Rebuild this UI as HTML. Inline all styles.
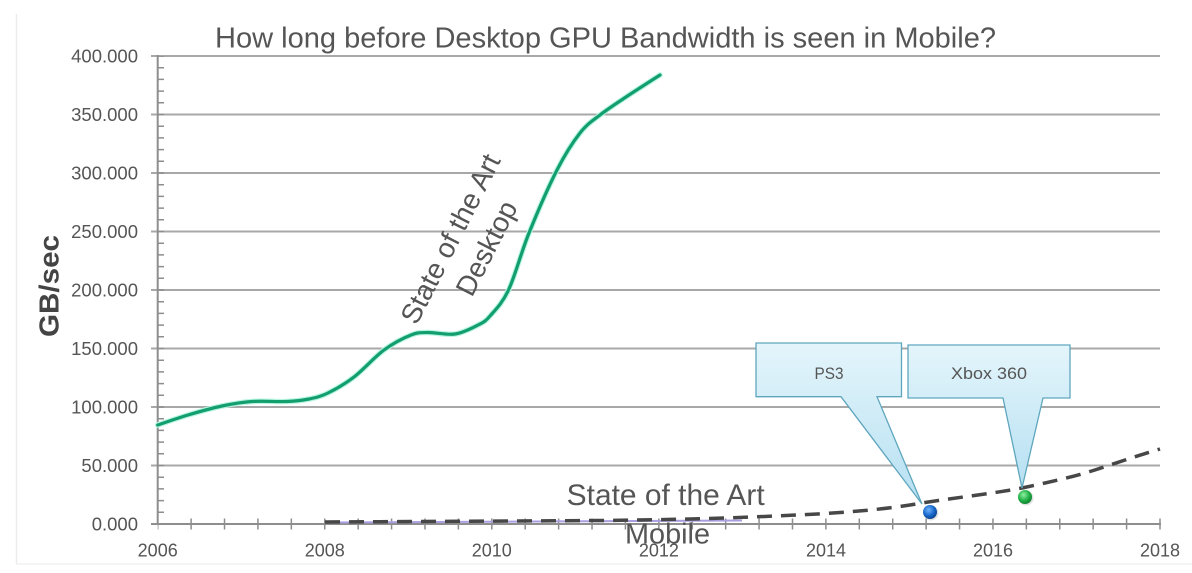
<!DOCTYPE html>
<html>
<head>
<meta charset="utf-8">
<style>
html,body{margin:0;padding:0;background:#fff;}
svg{display:block;}
text{font-family:"Liberation Sans",sans-serif;}
</style>
</head>
<body>
<svg width="1192" height="573" viewBox="0 0 1192 573" xmlns="http://www.w3.org/2000/svg">
<defs>
  <linearGradient id="cg" x1="0" y1="0" x2="0" y2="1">
    <stop offset="0" stop-color="#e4f5fb"/>
    <stop offset="1" stop-color="#b6e0f2"/>
  </linearGradient>
  <radialGradient id="bd" cx="0.4" cy="0.35" r="0.7">
    <stop offset="0" stop-color="#6fb3ff"/>
    <stop offset="0.6" stop-color="#1565c8"/>
    <stop offset="1" stop-color="#0b3f85"/>
  </radialGradient>
  <radialGradient id="gd" cx="0.4" cy="0.35" r="0.7">
    <stop offset="0" stop-color="#8ff0a0"/>
    <stop offset="0.6" stop-color="#1fae45"/>
    <stop offset="1" stop-color="#0d7a2a"/>
  </radialGradient>
</defs>

<!-- faint slide border -->
<line x1="16.5" y1="14" x2="16.5" y2="564" stroke="#ececec" stroke-width="1.5"/>
<line x1="16" y1="564" x2="1192" y2="564" stroke="#f2f2f2" stroke-width="1.5"/>

<!-- title -->
<text x="215" y="47.3" font-size="29" fill="#555" textLength="781" lengthAdjust="spacingAndGlyphs">How long before Desktop GPU Bandwidth is seen in Mobile?</text>

<!-- gridlines -->
<g stroke="#a8a8a8" stroke-width="2">
  <line x1="151" y1="56" x2="1160" y2="56"/>
  <line x1="151" y1="114.5" x2="1160" y2="114.5"/>
  <line x1="151" y1="173" x2="1160" y2="173"/>
  <line x1="151" y1="231.5" x2="1160" y2="231.5"/>
  <line x1="151" y1="290" x2="1160" y2="290"/>
  <line x1="151" y1="348.5" x2="1160" y2="348.5"/>
  <line x1="151" y1="407" x2="1160" y2="407"/>
  <line x1="151" y1="465.5" x2="1160" y2="465.5"/>
</g>

<!-- axes -->
<line x1="157.7" y1="55" x2="157.7" y2="525" stroke="#8e8e8e" stroke-width="2"/>
<line x1="151" y1="524" x2="1161" y2="524" stroke="#8e8e8e" stroke-width="2"/>
<!-- y minor ticks -->
<line x1="161" y1="56" x2="161" y2="524" stroke="#8e8e8e" stroke-width="6" stroke-dasharray="1.5 10.2" stroke-dashoffset="0.75"/>
<!-- x minor ticks -->
<line x1="157.7" y1="524" x2="1161" y2="524" stroke="#8e8e8e" stroke-width="11" stroke-dasharray="1.5 31.91" stroke-dashoffset="0.75"/>

<!-- y labels -->
<g font-size="18.5" fill="#555" text-anchor="end">
  <text x="138" y="62.5">400.000</text>
  <text x="138" y="121">350.000</text>
  <text x="138" y="179.5">300.000</text>
  <text x="138" y="238">250.000</text>
  <text x="138" y="296.5">200.000</text>
  <text x="138" y="355">150.000</text>
  <text x="138" y="413.5">100.000</text>
  <text x="138" y="472">50.000</text>
  <text x="138" y="530.5">0.000</text>
</g>

<!-- y axis title -->
<text transform="translate(58.3,286) rotate(-90)" text-anchor="middle" font-size="28" font-weight="bold" fill="#444" textLength="102" lengthAdjust="spacingAndGlyphs">GB/sec</text>

<!-- x labels -->
<g font-size="18" fill="#555" text-anchor="middle">
  <text x="157.7" y="556.5">2006</text>
  <text x="324.8" y="556.5">2008</text>
  <text x="491.8" y="556.5">2010</text>
  <text x="658.9" y="556.5">2012</text>
  <text x="826" y="556.5">2014</text>
  <text x="993" y="556.5">2016</text>
  <text x="1160" y="556.5">2018</text>
</g>

<!-- desktop curve -->
<g fill="none" stroke-linecap="round" stroke-linejoin="round">
<path d="M157.7,425 C162.75,423.33 177.28,418.17 188,415 C198.72,411.83 211.33,408.25 222,406 C232.67,403.75 241.17,402.25 252,401.5 C262.83,400.75 277.5,401.92 287,401.5 C296.5,401.08 302.17,400.42 309,399 C315.83,397.58 320.5,396.67 328,393 C335.5,389.33 344.67,384.17 354,377 C363.33,369.83 374.5,357 384,350 C393.5,343 403.67,337.92 411,335 C418.33,332.08 420.67,332.67 428,332.5 C435.33,332.33 446.67,335.25 455,334 C463.33,332.75 472.17,328 478,325 C483.83,322 484.92,321.83 490,316 C495.08,310.17 502,303.83 508.5,290 C515,276.17 520.92,253 529,233 C537.08,213 548.5,186.67 557,170 C565.5,153.33 572.83,142.17 580,133 C587.17,123.83 592.33,121 600,115 C607.67,109 616,103.67 626,97 C636,90.33 654.33,78.67 660,75" stroke="#b8f5e2" stroke-width="5.5"/>
<path d="M157.7,425 C162.75,423.33 177.28,418.17 188,415 C198.72,411.83 211.33,408.25 222,406 C232.67,403.75 241.17,402.25 252,401.5 C262.83,400.75 277.5,401.92 287,401.5 C296.5,401.08 302.17,400.42 309,399 C315.83,397.58 320.5,396.67 328,393 C335.5,389.33 344.67,384.17 354,377 C363.33,369.83 374.5,357 384,350 C393.5,343 403.67,337.92 411,335 C418.33,332.08 420.67,332.67 428,332.5 C435.33,332.33 446.67,335.25 455,334 C463.33,332.75 472.17,328 478,325 C483.83,322 484.92,321.83 490,316 C495.08,310.17 502,303.83 508.5,290 C515,276.17 520.92,253 529,233 C537.08,213 548.5,186.67 557,170 C565.5,153.33 572.83,142.17 580,133 C587.17,123.83 592.33,121 600,115 C607.67,109 616,103.67 626,97 C636,90.33 654.33,78.67 660,75" stroke="#139e6e" stroke-width="3.2"/>
</g>

<!-- desktop label -->
<g font-size="28" fill="#555" text-anchor="middle">
  <text transform="translate(458.9,243.1) rotate(-63)" textLength="186" lengthAdjust="spacingAndGlyphs">State of the Art</text>
  <text transform="translate(495,252.5) rotate(-63)" textLength="102" lengthAdjust="spacingAndGlyphs">Desktop</text>
</g>

<!-- mobile line -->
<line x1="325" y1="522.5" x2="742" y2="520.5" stroke="#a99fe0" stroke-width="2"/>
<path d="M325,522 L600,520.5 C700,519.5 760,517 826,513.5 C880,510 905,506 922,503 C960,497 990,494 1022,488 C1060,480 1080,475 1101,468 C1125,460 1140,455 1160,449" fill="none" stroke="#474747" stroke-width="3.5" stroke-dasharray="15 9"/>

<!-- mobile label -->
<text x="566.7" y="505" font-size="29.5" fill="#555" textLength="198" lengthAdjust="spacingAndGlyphs">State of the Art</text>
<text x="625" y="543.3" font-size="29" fill="#555" textLength="85" lengthAdjust="spacingAndGlyphs">Mobile</text>

<!-- callouts -->
<path d="M756,343 H901.5 V396.7 H877 L922,504 L841,396.7 H756 Z" fill="url(#cg)" stroke="#5fa6bd" stroke-width="1.3"/>
<path d="M908,345 H1070 V398 H1043 L1022,488 L1003,398 H908 Z" fill="url(#cg)" stroke="#5fa6bd" stroke-width="1.3"/>
<text x="829" y="379" font-size="17" fill="#555" text-anchor="middle" textLength="29" lengthAdjust="spacingAndGlyphs">PS3</text>
<text x="989" y="379" font-size="17" fill="#555" text-anchor="middle" textLength="76" lengthAdjust="spacingAndGlyphs">Xbox 360</text>

<!-- dots -->
<circle cx="931" cy="513" r="7.5" fill="#000" opacity="0.12"/>
<circle cx="930" cy="512" r="7" fill="url(#bd)"/>
<circle cx="1026" cy="498" r="7.5" fill="#000" opacity="0.12"/>
<circle cx="1025" cy="497" r="7" fill="url(#gd)"/>
</svg>
</body>
</html>
